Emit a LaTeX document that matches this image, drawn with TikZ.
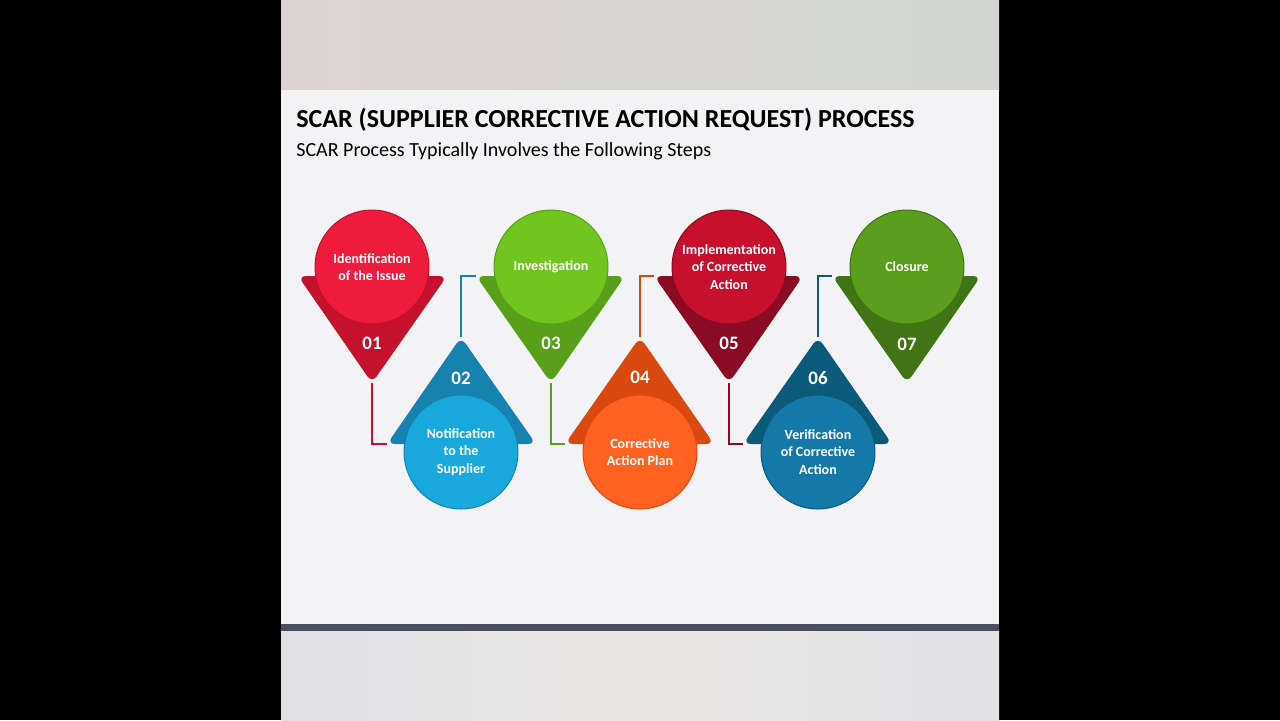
\documentclass[tikz,border=0pt]{standalone}
\usepackage{fontspec}
\setmainfont{Carlito}
\definecolor{redL}{HTML}{EF1B3D}
\definecolor{redD}{HTML}{C5102E}
\definecolor{blueL}{HTML}{18A8DC}
\definecolor{blueD}{HTML}{1781B0}
\definecolor{greenL}{HTML}{72C41F}
\definecolor{greenD}{HTML}{58A01A}
\definecolor{orangeL}{HTML}{FF6220}
\definecolor{orangeD}{HTML}{D9490F}
\definecolor{crimsonL}{HTML}{C6102E}
\definecolor{crimsonD}{HTML}{8A0B23}
\definecolor{tealL}{HTML}{1479A8}
\definecolor{tealD}{HTML}{0C5A7A}
\definecolor{oliveL}{HTML}{5B9E1D}
\definecolor{oliveD}{HTML}{407414}
\definecolor{slide}{HTML}{F3F2F4}
\definecolor{rule}{HTML}{4A5062}
\tikzset{
	stepcirc/.style={circle, minimum size=57pt, inner sep=0pt, text=white, align=center,
		font=\bfseries\fontsize{7}{8.8}\selectfont, line width=0.5pt},
	stepnum/.style={text=white, font=\bfseries\fontsize{9.5}{11}\selectfont},
	wedge/.style={rounded corners=4pt},
	link/.style={line width=0.8pt}
}
\begin{document}
\begin{tikzpicture}[x=0.5pt,y=-0.5pt]
	% frame of the video still
	\fill[black] (0,0) rectangle (1280,720);
	\shade[left color=red!14!gray!30, right color=green!6!gray!35] (281,0) rectangle (999,90);
	\shade[left color=blue!8!gray!22, right color=blue!8!gray!22, middle color=orange!10!gray!20] (281,630) rectangle (999,720);
	\fill[slide] (281,90) rectangle (999,624);
	\fill[rule] (281,624) rectangle (999,631);
	\node[anchor=base west, inner sep=0pt, font=\bfseries\fontsize{13}{16}\selectfont] (title) at (296,127) {SCAR (SUPPLIER CORRECTIVE ACTION REQUEST) PROCESS};
	\node[anchor=base west, inner sep=0pt, font=\fontsize{10}{12}\selectfont] (sub) at (296,156) {SCAR Process Typically Involves the Following Steps};
	% corners of the wedges
	\coordinate (l1) at (298,276); \coordinate (r1) at (447,276); \coordinate (t1) at (372,383);
	\coordinate (l2) at (387,444); \coordinate (r2) at (536,444); \coordinate (t2) at (461,337);
	\coordinate (l3) at (476,276); \coordinate (r3) at (625,276); \coordinate (t3) at (551,383);
	\coordinate (l4) at (565,444); \coordinate (r4) at (714,444); \coordinate (t4) at (640,337);
	\coordinate (l5) at (654,276); \coordinate (r5) at (803,276); \coordinate (t5) at (729,383);
	\coordinate (l6) at (743,444); \coordinate (r6) at (892,444); \coordinate (t6) at (818,337);
	\coordinate (l7) at (832,276); \coordinate (r7) at (981,276); \coordinate (t7) at (907,383);
	% connectors
	\draw[link, redD] (t1) |- (l2);
	\draw[link, blueD] (t2) |- (l3);
	\draw[link, greenD] (t3) |- (l4);
	\draw[link, orangeD] (t4) |- (l5);
	\draw[link, crimsonD] (t5) |- (l6);
	\draw[link, tealD] (t6) |- (l7);
	% steps
	\fill[wedge, redD] (l1) -- (r1) -- (t1) -- cycle;
	\node[stepcirc, fill=redL, draw=redD] (c1) at (372,267) {Identification\\of the Issue};
	\node[stepnum] (n1) at (372,343) {01};
	\fill[wedge, blueD] (l2) -- (r2) -- (t2) -- cycle;
	\node[stepcirc, fill=blueL, draw=blueD] (c2) at (461,452) {Notification\\to the\\Supplier};
	\node[stepnum] (n2) at (461,378) {02};
	\fill[wedge, greenD] (l3) -- (r3) -- (t3) -- cycle;
	\node[stepcirc, fill=greenL, draw=greenD] (c3) at (551,267) {Investigation};
	\node[stepnum] (n3) at (551,343) {03};
	\fill[wedge, orangeD] (l4) -- (r4) -- (t4) -- cycle;
	\node[stepcirc, fill=orangeL, draw=orangeD] (c4) at (640,452) {Corrective\\Action Plan};
	\node[stepnum] (n4) at (640,377) {04};
	\fill[wedge, crimsonD] (l5) -- (r5) -- (t5) -- cycle;
	\node[stepcirc, fill=crimsonL, draw=crimsonD] (c5) at (729,267) {Implementation\\of Corrective\\Action};
	\node[stepnum] (n5) at (729,343) {05};
	\fill[wedge, tealD] (l6) -- (r6) -- (t6) -- cycle;
	\node[stepcirc, fill=tealL, draw=tealD] (c6) at (818,452) {Verification\\of Corrective\\Action};
	\node[stepnum] (n6) at (818,378) {06};
	\fill[wedge, oliveD] (l7) -- (r7) -- (t7) -- cycle;
	\node[stepcirc, fill=oliveL, draw=oliveD] (c7) at (907,267) {Closure};
	\node[stepnum] (n7) at (907,344) {07};
\end{tikzpicture}
\end{document}
